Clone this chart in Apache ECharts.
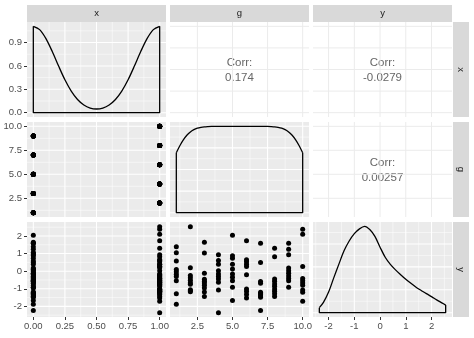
<!DOCTYPE html>
<html><head><meta charset="utf-8">
<script src="https://cdn.jsdelivr.net/npm/echarts@6/dist/echarts.min.js"></script>
<style>html,body{margin:0;padding:0;background:#fff}#c{width:474px;height:338px}</style>
</head><body><div id="c"></div><script>
// ---------------- data ----------------
const varNames = ['x', 'g', 'y'];
const gLevels = [1, 2, 3, 4, 5, 6, 7, 8, 9, 10];
const xByG = [0, 1, 0, 1, 0, 1, 0, 1, 0, 1];
const yByG = [
  [1.39, 1.05, 0.58, 0.10, -0.03, -0.18, -0.31, -0.55, -1.28, -1.88],
  [2.52, 0.19, -0.24, -0.38, -0.52, -0.66, -0.75, -1.06, -1.11, -1.17],
  [1.65, 1.03, -0.12, -0.46, -0.58, -0.67, -0.80, -0.95, -1.18, -1.44],
  [0.94, 0.60, 0.40, 0.03, -0.16, -0.31, -0.45, -0.63, -1.07, -2.36],
  [2.04, 0.88, 0.74, 0.40, 0.12, -0.16, -0.35, -0.54, -0.92, -1.67],
  [1.73, 0.65, 0.54, 0.40, 0.27, -0.20, -1.01, -1.16, -1.33, -1.52],
  [1.59, 0.50, -0.59, -0.68, -1.20, -1.27, -1.33, -1.41, -1.48, -2.23],
  [1.31, 0.82, -0.45, -0.58, -0.73, -0.86, -1.01, -1.14, -1.29, -1.44],
  [1.59, 1.25, 0.94, 0.18, 0.03, -0.12, -0.28, -0.41, -0.54, -0.92],
  [2.38, 2.10, 0.26, -0.41, -0.54, -0.67, -0.80, -1.07, -1.20, -1.71]
];
// density curves
const densXx = [0,0.05,0.1,0.15,0.2,0.25,0.3,0.35,0.4,0.45,0.5,0.55,0.6,0.65,0.7,0.75,0.8,0.85,0.9,0.95,1];
const densXy = [1.108,1.066,0.950,0.784,0.598,0.422,0.277,0.169,0.098,0.059,0.047,0.059,0.098,0.169,0.277,0.422,0.598,0.784,0.950,1.066,1.108];
const densGx = [1,1.25,1.5,1.75,2,2.25,2.5,2.75,3,3.25,3.5,3.75,4,4.5,5,5.5,6,6.5,7,7.25,7.5,7.75,8,8.25,8.5,8.75,9,9.25,9.5,9.75,10];
const densGy = [0.0693,0.0775,0.0843,0.0896,0.0935,0.0961,0.0978,0.0988,0.0994,0.0997,0.0999,0.1,0.1,0.1,0.1,0.1,0.1,0.1,0.1,0.1,0.0999,0.0997,0.0994,0.0988,0.0978,0.0961,0.0935,0.0896,0.0843,0.0775,0.0693];
const densYx = [-2.36,-2.2,-2.0,-1.8,-1.6,-1.4,-1.2,-1.0,-0.8,-0.6,-0.4,-0.2,0.0,0.2,0.4,0.6,0.8,1.0,1.2,1.4,1.6,1.8,2.0,2.2,2.4,2.55];
const densYy = [0.022,0.045,0.09,0.152,0.212,0.27,0.313,0.345,0.366,0.377,0.363,0.333,0.286,0.242,0.211,0.187,0.166,0.146,0.128,0.111,0.097,0.083,0.07,0.056,0.043,0.033];
const corrLabels = { xg: '0.174', xy: '-0.0279', gy: '0.00257' };
// ticks
const xTicks = [0, 0.25, 0.5, 0.75, 1], xTickLabels = ['0.00', '0.25', '0.50', '0.75', '1.00'];
const gTicks = [2.5, 5, 7.5, 10], gTickLabels = ['2.5', '5.0', '7.5', '10.0'];
const yTicks = [-2, -1, 0, 1, 2], yTickLabels = ['-2', '-1', '0', '1', '2'];
const dTicks = [0, 0.3, 0.6, 0.9], dTickLabels = ['0.0', '0.3', '0.6', '0.9'];

// ---------------- layout / style ----------------
const FONT = '"Liberation Sans", Arial, Helvetica, sans-serif';
const colL = [27, 170, 313], rowT = [22, 122, 222], PW = 139, PH = 95;
const varRange = { x: [-0.05, 1.05], g: [0.55, 10.45], y: [-2.606, 2.796] };
const densRange = { x: [-0.0554, 1.1634], g: [-0.005, 0.105], y: [-0.0189, 0.3959] };
const major = { x: xTicks, g: gTicks, y: yTicks };
const minor = { x: [0.125, 0.375, 0.625, 0.875], g: [1.25, 3.75, 6.25, 8.75], y: [-2.5, -1.5, -0.5, 0.5, 1.5, 2.5] };
const dMajor = { x: dTicks, g: [0, 0.025, 0.05, 0.075, 0.1], y: [0, 0.1, 0.2, 0.3] };
const dMinor = { x: [0.15, 0.45, 0.75, 1.05], g: [0.0125, 0.0375, 0.0625, 0.0875], y: [0.05, 0.15, 0.25, 0.35] };
const tickLab = { x: [xTicks, xTickLabels], g: [gTicks, gTickLabels], y: [yTicks, yTickLabels] };

const grids = [], xAxes = [], yAxes = [], series = [], graphics = [];

function mkAxis(i, range, show, vals, labs, isX) {
  return {
    type: 'value', gridIndex: i, min: range[0], max: range[1],
    position: isX ? 'bottom' : 'left',
    axisLine: { show: false, onZero: false },
    splitLine: { show: false },
    axisTick: { show: show, customValues: vals, length: 3, lineStyle: { color: '#333333', width: 1 } },
    axisLabel: {
      show: show, customValues: vals, color: '#4D4D4D', fontSize: 9.5, fontFamily: FONT,
      margin: isX ? 4 : 5,
      formatter: v => { const k = vals.findIndex(t => Math.abs(t - v) < 1e-9); return k >= 0 ? labs[k] : ''; }
    }
  };
}
function gridLines(i, vx, vy, color, w) {
  const data = [];
  vx.forEach(v => data.push([v, 0]));
  vy.forEach(v => data.push([v, 1]));
  return {
    type: 'custom', xAxisIndex: i, yAxisIndex: i, silent: true, z: 1, animation: false, data,
    renderItem: (params, api) => {
      const cs = params.coordSys, v = api.value(0), d = api.value(1);
      if (d === 0) {
        const px = api.coord([v, 0])[0];
        return { type: 'line', shape: { x1: px, y1: cs.y, x2: px, y2: cs.y + cs.height }, style: { stroke: color, lineWidth: w } };
      }
      const py = api.coord([0, v])[1];
      return { type: 'line', shape: { x1: cs.x, y1: py, x2: cs.x + cs.width, y2: py }, style: { stroke: color, lineWidth: w } };
    }
  };
}
function densSeries(i, xs, ys) {
  const n = xs.length - 1;
  const base = { type: 'line', xAxisIndex: i, yAxisIndex: i, symbol: 'none', silent: true, animation: false, z: 3,
    lineStyle: { color: '#000', width: 1.3 } };
  return [
    Object.assign({}, base, { data: xs.map((x, k) => [x, ys[k]]), smooth: 0.3 }),
    Object.assign({}, base, { data: [[xs[0], ys[0]], [xs[0], 0], [xs[n], 0], [xs[n], ys[n]]] })
  ];
}
function scatter(i, data) {
  return { type: 'scatter', xAxisIndex: i, yAxisIndex: i, data, symbolSize: 5, z: 3, silent: true, animation: false,
    itemStyle: { color: '#000', opacity: 1 } };
}

for (let r = 0; r < 3; r++) {
  for (let c = 0; c < 3; c++) {
    const i = r * 3 + c, cv = varNames[c], rv = varNames[r];
    const upper = c > r;
    grids.push({ left: colL[c], top: rowT[r], width: PW, height: PH, show: true,
      backgroundColor: upper ? '#FFFFFF' : '#EBEBEB', borderWidth: 0, containLabel: false });
    const yr = (r === c) ? densRange[rv] : varRange[rv];
    xAxes.push(mkAxis(i, varRange[cv], r === 2, tickLab[cv][0], tickLab[cv][1], true));
    const yl = (r === 0) ? [dTicks, dTickLabels] : tickLab[rv];
    yAxes.push(mkAxis(i, yr, c === 0, yl[0], yl[1], false));
    if (upper) {
      series.push(gridLines(i, major[cv], major[rv], '#EBEBEB', 1));
    } else if (r === c) {
      series.push(gridLines(i, minor[cv], dMinor[rv], '#FFFFFF', 0.5));
      series.push(gridLines(i, major[cv], dMajor[rv], '#FFFFFF', 1.07));
    } else {
      series.push(gridLines(i, minor[cv], minor[rv], '#FFFFFF', 0.5));
      series.push(gridLines(i, major[cv], major[rv], '#FFFFFF', 1.07));
    }
  }
}
// diagonal densities
densSeries(0, densXx, densXy).forEach(s => series.push(s));
densSeries(4, densGx, densGy).forEach(s => series.push(s));
densSeries(8, densYx, densYy).forEach(s => series.push(s));
// scatter panels
const ptsXG = [], ptsXY = [], ptsGY = [];
gLevels.forEach((g, k) => yByG[k].forEach(y => {
  ptsXG.push([xByG[k], g]); ptsXY.push([xByG[k], y]); ptsGY.push([g, y]);
}));
series.push(scatter(3, ptsXG));
series.push(scatter(6, ptsXY));
series.push(scatter(7, ptsGY));

// strips
for (let c = 0; c < 3; c++) {
  graphics.push({ type: 'rect', shape: { x: colL[c], y: 5, width: PW, height: 17 }, style: { fill: '#D9D9D9' }, silent: true });
  graphics.push({ type: 'text', x: colL[c] + PW / 2, y: 13.5, style: { text: varNames[c], fill: '#1A1A1A', font: '9.5px ' + FONT, align: 'center', verticalAlign: 'middle' }, silent: true });
}
for (let r = 0; r < 3; r++) {
  graphics.push({ type: 'rect', shape: { x: 453, y: rowT[r], width: 16, height: PH }, style: { fill: '#D9D9D9' }, silent: true });
  graphics.push({ type: 'text', x: 461, y: rowT[r] + PH / 2, rotation: -Math.PI / 2, style: { text: varNames[r], fill: '#1A1A1A', font: '9.5px ' + FONT, align: 'center', verticalAlign: 'middle' }, silent: true });
}
// correlation texts
const corrPanels = [[0, 1, corrLabels.xg], [0, 2, corrLabels.xy], [1, 2, corrLabels.gy]];
corrPanels.forEach(([r, c, txt]) => {
  graphics.push({ type: 'text', x: colL[c] + PW / 2, y: rowT[r] + PH / 2 + 1,
    style: { text: 'Corr:\n' + txt, fill: '#666666', font: '11.5px ' + FONT, align: 'center', verticalAlign: 'middle', lineHeight: 15 }, silent: true });
});

const chart = echarts.init(document.getElementById('c'), null, { renderer: 'canvas', width: 474, height: 338 });
chart.setOption({
  animation: false,
  backgroundColor: '#FFFFFF',
  grid: grids, xAxis: xAxes, yAxis: yAxes, series: series,
  graphic: { elements: graphics }
});
</script></body></html>
